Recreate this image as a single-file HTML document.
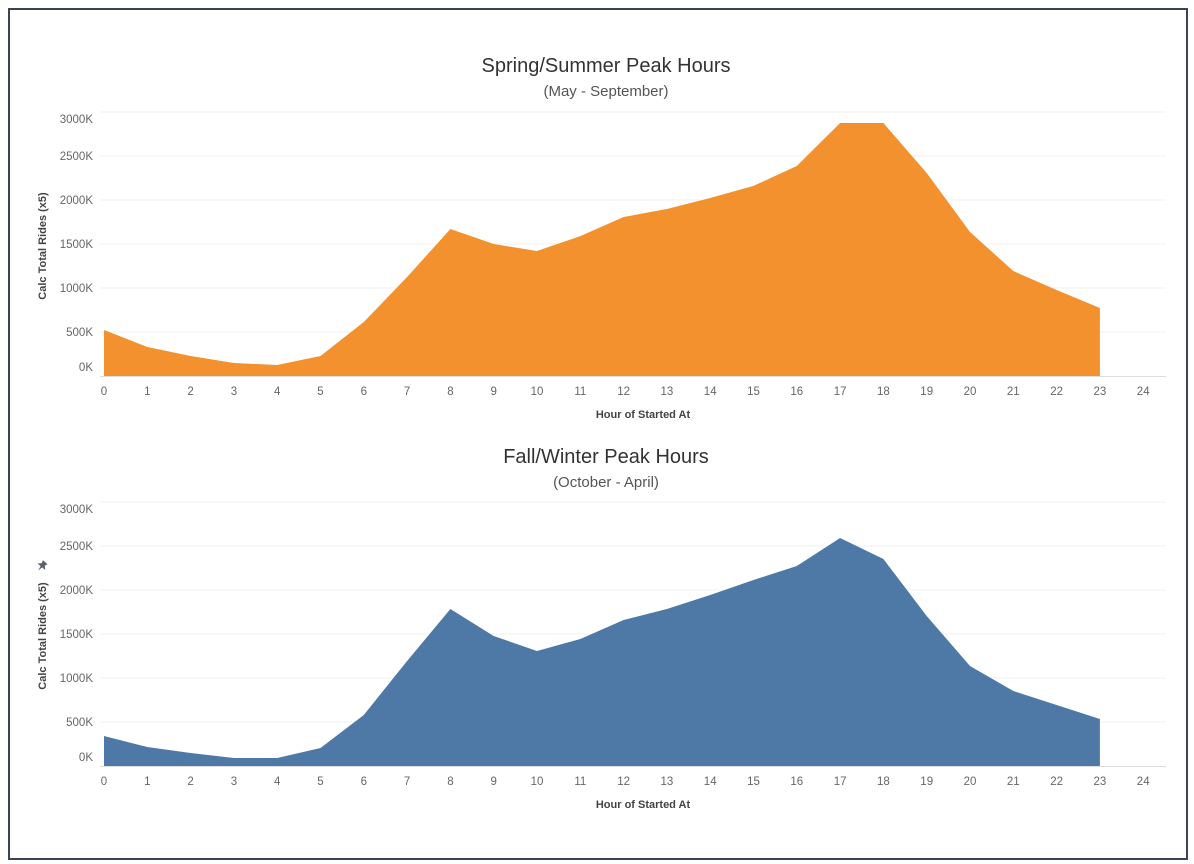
<!DOCTYPE html>
<html><head><meta charset="utf-8"><style>
body{margin:0;background:#fff;font-family:"Liberation Sans",sans-serif}
#frame{position:absolute;left:8px;top:8px;width:1176px;height:848px;border:2px solid #3a4552}
</style></head><body>
<div id="frame"></div>
<svg id="svg" width="1194" height="864" style="position:absolute;left:0;top:0"></svg>
<script>
const hours=[0,1,2,3,4,5,6,7,8,9,10,11,12,13,14,15,16,17,18,19,20,21,22,23];
const springValues=[523,330,227,148,125,227,614,1125,1670,1500,1420,1590,1807,1898,2023,2160,2386,2875,2875,2307,1636,1193,977,773];
const fallValues=[341,216,148,91,91,205,580,1193,1784,1477,1307,1443,1659,1784,1943,2114,2273,2591,2352,1705,1136,852,693,534];
const yTicks=[0,500,1000,1500,2000,2500,3000];
const xTicks=[0,1,2,3,4,5,6,7,8,9,10,11,12,13,14,15,16,17,18,19,20,21,22,23,24];
const NS="http://www.w3.org/2000/svg";
const svg=document.getElementById('svg');
function mk(tag,attrs,parent,text){const e=document.createElementNS(NS,tag);for(const k in attrs)e.setAttribute(k,attrs[k]);if(text!==undefined)e.textContent=text;(parent||svg).appendChild(e);return e;}
const xs=h=>104+43.3*h;
function chart(opt){
  const g=mk('g',{});
  
  
  const ys=v=>opt.base-v/500*44;
  const t=mk('text',{x:606,y:opt.titleY,'text-anchor':'middle','font-size':20,fill:'#333'},g,opt.title);
  
  const st=mk('text',{x:606,y:opt.titleY+24,'text-anchor':'middle','font-size':15,fill:'#555'},g,opt.sub);
  
  yTicks.forEach(v=>{
    const y=ys(v);
    if(v>0){const l=mk('line',{x1:100,x2:1166,y1:y,y2:y,stroke:'#f2f2f2'},g);}
    let ly=y+4; if(v===0)ly=y-5; if(v===3000)ly=y+11;
    const tl=mk('text',{x:93,y:ly,'text-anchor':'end','font-size':11.5,fill:'#666'},g,v+'K');
    
  });
  let d='M'+xs(hours[0])+','+opt.base;
  hours.forEach((h,i)=>{d+=' L'+xs(h)+','+ys(opt.values[i]);});
  d+=' L'+xs(hours[hours.length-1])+','+opt.base+' Z';
  const a=mk('path',{d:d,fill:opt.color},g);
  
  const ax=mk('line',{x1:100,x2:1166,y1:opt.base+0.5,y2:opt.base+0.5,stroke:'#ddd'},g);
  
  xTicks.forEach(h=>{
    const tl=mk('text',{x:xs(h),y:opt.base+19,'text-anchor':'middle','font-size':11.5,fill:'#666'},g,String(h));
    
  });
  const xt=mk('text',{x:643,y:opt.base+42,'text-anchor':'middle','font-size':11,'font-weight':'bold',fill:'#444'},g,'Hour of Started At');
  
  const cy=opt.base-130;
  const yt=mk('text',{x:46,y:cy,'text-anchor':'middle','font-size':11,'font-weight':'bold',fill:'#444',transform:'rotate(-90 46 '+cy+')'},g,'Calc Total Rides (x5)');
  
}
chart({name:'spring-summer-chart',title:'Spring/Summer Peak Hours',sub:'(May - September)',titleY:72,base:376,values:springValues,color:'#f2912d'});
chart({name:'fall-winter-chart',title:'Fall/Winter Peak Hours',sub:'(October - April)',titleY:463,base:766,values:fallValues,color:'#4e79a7'});
const pin=mk('path',{d:'M39,561 L45,561 L44,564 L47,567 L43,567 L42,572 L41,567 L37,567 L40,564 Z',fill:'#5a6270',transform:'rotate(40 42 566)'});


</script>
</body></html>
